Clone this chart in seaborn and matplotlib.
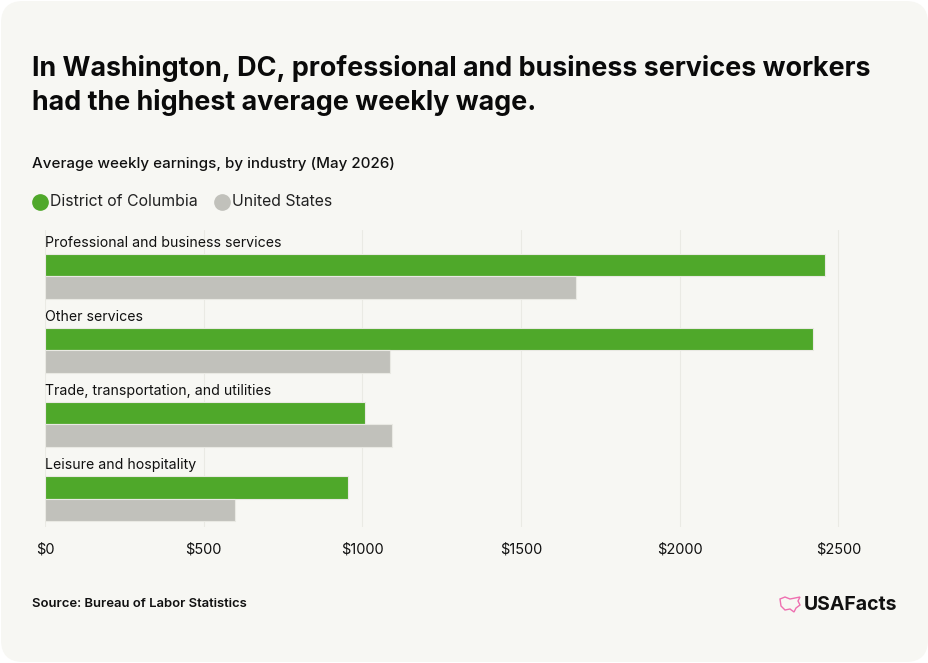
import matplotlib
matplotlib.use("Agg")
import matplotlib.pyplot as plt
from matplotlib.patches import FancyBboxPatch, Polygon
from matplotlib.lines import Line2D
from matplotlib.transforms import IdentityTransform
import pandas as pd
import seaborn as sns

industries = [
    "Professional and business services",
    "Other services",
    "Trade, transportation, and utilities",
    "Leisure and hospitality",
]
dc_wages = [2457, 2419, 1008, 954]
us_wages = [1673, 1087, 1093, 598]
regions = ["District of Columbia", "United States"]
x_ticks = [0, 500, 1000, 1500, 2000, 2500]
tick_labels = ["$0", "$500", "$1000", "$1500", "$2000", "$2500"]

GREEN = "#4FA82A"
GREY = "#C1C1BB"
BG = "#F7F7F3"
W, H = 929, 663

df = pd.DataFrame({
    "industry": industries * 2,
    "region": [regions[0]] * 4 + [regions[1]] * 4,
    "wage": dc_wages + us_wages,
})

sns.set_theme(style="white")
plt.rcParams["font.family"] = ["Inter", "DejaVu Sans"]

fig = plt.figure(figsize=(W / 100, H / 100), dpi=100, facecolor="white")

# rounded card background
card = FancyBboxPatch((1, 1), W - 2, H - 2, boxstyle="round,pad=0,rounding_size=22",
                      transform=IdentityTransform(), facecolor=BG, edgecolor="none", zorder=-10)
fig.add_artist(card)


def fx(px):
    return px / W


def fy(py):
    return 1 - py / H


ax = fig.add_axes([fx(45), fy(527), fx(848) - fx(45), fy(230) - fy(527)])
ax.set_facecolor("none")

sns.barplot(
    data=df, y="industry", x="wage", hue="region", orient="h",
    palette=[GREEN, GREY], width=0.62, legend=False, ax=ax,
    edgecolor="#E9E9E3", linewidth=0.8, saturation=1,
)

ax.set_xlim(0, 2530)
ax.set_ylim(3.385, -0.628)
ax.set_xticks(x_ticks)
ax.set_xticklabels(tick_labels, fontsize=10.5, color="#111111")
ax.set_yticks([])
ax.set_xlabel("")
ax.set_ylabel("")
ax.tick_params(axis="x", length=0, pad=11)
ax.xaxis.grid(True, color="#EAEAE4", linewidth=0.8)
ax.set_axisbelow(True)
for s in ax.spines.values():
    s.set_visible(False)

for i, name in enumerate(industries):
    ax.text(0, i - 0.355, name, ha="left", va="bottom", fontsize=10.2, color="#111111")

# title and subtitle
fig.text(fx(32), fy(68), "In Washington, DC, professional and business services workers",
         fontsize=19.4, fontweight="bold", va="center", ha="left", color="#0A0A0A")
fig.text(fx(32), fy(102), "had the highest average weekly wage.",
         fontsize=19.4, fontweight="bold", va="center", ha="left", color="#0A0A0A")
fig.text(fx(32), fy(164), "Average weekly earnings, by industry (May 2026)",
         fontsize=10.9, fontweight="medium", va="center", ha="left", color="#111111")

# legend
fig.add_artist(Line2D([fx(40)], [fy(202)], marker="o", markersize=11, color=GREEN,
                      transform=fig.transFigure, linestyle="none"))
fig.text(fx(50), fy(202), regions[0], fontsize=11.4, va="center", ha="left", color="#222222")
fig.add_artist(Line2D([fx(222)], [fy(202)], marker="o", markersize=11, color=GREY,
                      transform=fig.transFigure, linestyle="none"))
fig.text(fx(232), fy(202), regions[1], fontsize=11.4, va="center", ha="left", color="#222222")

# source and logo
fig.text(fx(32), fy(604), "Source: Bureau of Labor Statistics",
         fontsize=9.4, fontweight="semibold", va="center", ha="left", color="#111111")
fig.text(fx(897), fy(605), "USAFacts", fontsize=14, fontweight="bold",
         va="center", ha="right", color="#111111")
icon = [(780, 599), (785, 597), (790, 599), (795, 598), (800, 597), (798, 601),
        (800, 605), (796, 608), (794, 612), (790, 609), (785, 610), (781, 606)]
fig.add_artist(Polygon([(fx(a), fy(b)) for a, b in icon], closed=True,
                       transform=fig.transFigure, facecolor="none",
                       edgecolor="#EE6FB0", linewidth=1.0))

fig.savefig("out.png", dpi=100, facecolor="white")
